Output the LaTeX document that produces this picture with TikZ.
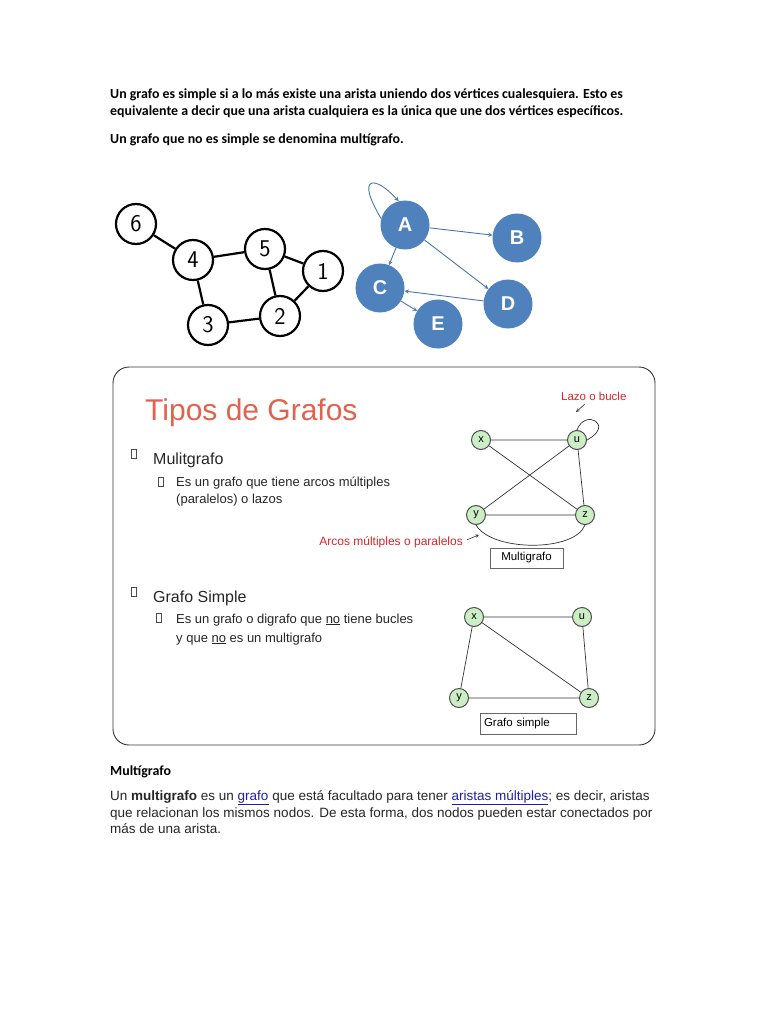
\documentclass[tikz,border=0pt]{standalone}
\usepackage{fontspec}
\setmainfont{Carlito}
\newfontfamily\arial{Liberation Sans}
\usepackage{tikz}
\usetikzlibrary{arrows,shapes,positioning,calc}
\definecolor{nodeblue}{RGB}{79,129,189}
\definecolor{edgeblue}{RGB}{74,118,176}
\definecolor{slidered}{RGB}{224,98,79}
\definecolor{labred}{RGB}{214,40,40}
\definecolor{ltgreen}{RGB}{204,238,196}
\definecolor{linkblue}{RGB}{30,30,170}
\tikzset{
  num/.style={circle,draw,line width=2.2pt,minimum size=40pt,inner sep=0pt,font=\sffamily\fontsize{24}{24}\selectfont},
  blue/.style={circle,fill=nodeblue,minimum size=49pt,inner sep=0pt,text=white,font=\arial\bfseries\fontsize{20}{20}\selectfont},
  barrow/.style={->,>=stealth,edgeblue,line width=0.9pt},
  small/.style={circle,draw=black!70,fill=ltgreen,line width=1pt,minimum size=19pt,inner sep=0pt,font=\arial\fontsize{11}{11}\selectfont},
  tag/.style={draw=black!60,line width=0.8pt,inner sep=0pt,font=\arial\fontsize{11.5}{11.5}\selectfont},
  body/.style={anchor=base west,inner sep=0pt,font=\arial\fontsize{13}{13}\selectfont,text=black!85},
  txt/.style={anchor=base west,inner sep=0pt,font=\bfseries\fontsize{13.9}{13.9}\selectfont}
}
\newcommand{\bul}[1]{\draw[black!70,line width=0.6pt] ($(#1)+(-2.5,-4.5)$) rectangle ++(5,9);}
\begin{document}
\begin{tikzpicture}[x=1pt,y=-1pt]
\useasboundingbox[fill=white] (0,0) rectangle (768,1024);
% top text
\node[txt] (l1) at (110,99) {Un grafo es simple si a lo más existe una arista uniendo dos vértices cualesquiera. Esto es};
\node[txt] (l2) at (110,116) {equivalente a decir que una arista cualquiera es la única que une dos vértices específicos.};
\node[txt] (l3) at (110,144) {Un grafo que no es simple se denomina multígrafo.};
% numbered graph
\node[num] (n6) at (136,224) {6};
\node[num] (n4) at (193,260) {4};
\node[num] (n5) at (265,249) {5};
\node[num] (n1) at (323,271) {1};
\node[num] (n2) at (280,316) {2};
\node[num] (n3) at (208,325) {3};
\draw[line width=2.2pt] (n6)--(n4) (n4)--(n5) (n5)--(n1) (n5)--(n2) (n1)--(n2) (n4)--(n3) (n3)--(n2);
% directed graph
\node[blue] (A) at (405,225) {A};
\node[blue] (B) at (517,238) {B};
\node[blue] (C) at (380,288) {C};
\node[blue] (D) at (508,304) {D};
\node[blue] (E) at (438,324) {E};
\draw[barrow] (A.165) .. controls (355,175) and (375,175) .. (A.105);
\draw[barrow] (A)--(B);
\draw[barrow] (A)--(C);
\draw[barrow] (A)--(D);
\draw[barrow] (D)--(C);
\draw[barrow] (C)--(E);
% slide
\draw[black!80,line width=0.9pt,rounded corners=16pt] (113,367) rectangle (655,745);
\node[anchor=base west,inner sep=0pt,text=slidered,font=\arial\fontsize{30}{30}\selectfont] (title) at (145,420) {Tipos de Grafos};
\coordinate (b1) at (134,454); \bul{b1}
\node[anchor=base west,inner sep=0pt,font=\arial\fontsize{16}{16}\selectfont,text=black!85] (h1) at (153,464) {Mulitgrafo};
\coordinate (b2) at (161,482); \bul{b2}
\node[body] (s1) at (176,486) {Es un grafo que tiene arcos múltiples};
\node[body] (s2) at (176,503) {(paralelos) o lazos};
\coordinate (b3) at (134,592); \bul{b3}
\node[anchor=base west,inner sep=0pt,font=\arial\fontsize{16}{16}\selectfont,text=black!85] (h2) at (153,602) {Grafo Simple};
\coordinate (b4) at (159,618); \bul{b4}
\node[body] (s3) at (176,623) {Es un grafo o digrafo que \underline{no} tiene bucles};
\node[body] (s4) at (176,642) {y que \underline{no} es un multigrafo};
% multigraph
\node[small] (mx) at (481,440) {x};
\node[small] (mu) at (577,440) {u};
\node[small] (my) at (476,515) {y};
\node[small] (mz) at (585,515) {z};
\draw[black!80,line width=0.7pt] (mx)--(mu) (mx)--(mz) (my)--(mu) (mu)--(mz) (my)--(mz);
\draw[black!80,line width=0.7pt] (my.south) .. controls (492,552) and (575,552) .. (mz.south);
\draw[black!80,line width=0.7pt] (mu.north) .. controls (585,408) and (615,425) .. (mu.east);
\node[anchor=base west,inner sep=0pt,text=labred,font=\arial\fontsize{11.5}{11.5}\selectfont] (lazo) at (561,400) {Lazo o bucle};
\draw[->,>=stealth,black!80,line width=0.6pt] (585,404) -- (576,412);
\node[anchor=base east,inner sep=0pt,text=labred,font=\arial\fontsize{12}{12}\selectfont] (arcos) at (463,545) {Arcos múltiples o paralelos};
\draw[->,>=stealth,black!80,line width=0.6pt] (arcos.east) ++(4,-2) -- ++(12,-5);
\node[tag,minimum width=73pt,minimum height=20pt] (mg) at (526.5,558) {Multigrafo};
% simple graph
\node[small] (sx) at (474,617) {x};
\node[small] (su) at (582,617) {u};
\node[small] (sy) at (459,698) {y};
\node[small] (sz) at (589,698) {z};
\draw[black!80,line width=0.7pt] (sx)--(su) (sx)--(sz) (sx)--(sy) (su)--(sz) (sy)--(sz);
\node[tag,minimum width=96pt,minimum height=21pt,text width=88pt,align=left] (gs) at (528,723.5) {Grafo simple};
% bottom text
\node[txt] (mt) at (110,775) {Multígrafo};
\node[body,font=\arial\fontsize{13.5}{13.5}\selectfont] (p1) at (110,800) {Un \textbf{multigrafo} es un {\color{linkblue}\underline{grafo}} que está facultado para tener {\color{linkblue}\underline{aristas múltiples}}; es decir, aristas};
\node[body,font=\arial\fontsize{13.5}{13.5}\selectfont] (p2) at (110,817) {que relacionan los mismos nodos. De esta forma, dos nodos pueden estar conectados por};
\node[body,font=\arial\fontsize{13.5}{13.5}\selectfont] (p3) at (110,833) {más de una arista.};
\end{tikzpicture}
\end{document}
